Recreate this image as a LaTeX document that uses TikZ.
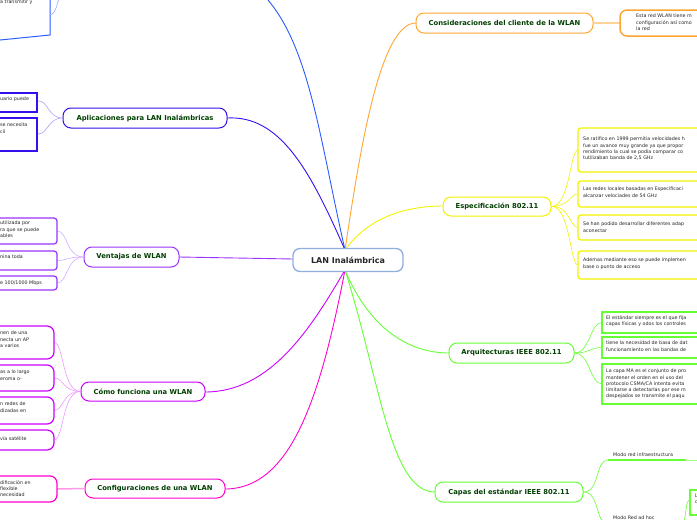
\documentclass[tikz,border=0pt]{standalone}
\usepackage{fontspec}
\setmainfont{DejaVu Sans}
\begin{document}
\begin{tikzpicture}[x=1pt,y=-1pt,
  br/.style={draw=#1, line width=1pt, rounded corners=8pt, fill=white, font=\fontsize{6.8}{8}\selectfont\bfseries, text=green!25!black, inner sep=0pt},
  tx/.style={font=\fontsize{4.8}{6.2}\selectfont, text=black!85, align=left, inner sep=0pt},
  con/.style={draw=#1, line width=0.9pt},
  sub/.style={draw=#1, line width=0.6pt}]
\useasboundingbox (0,0) rectangle (697,520);
\clip (0,0) rectangle (697,520);
\definecolor{corange}{HTML}{FFA630}
\definecolor{cyellow}{HTML}{F2F200}
\definecolor{cgreen}{HTML}{66FF33}
\definecolor{cblue}{HTML}{2A5CFF}
\definecolor{cind}{HTML}{3311EE}
\definecolor{cpur}{HTML}{9933FF}
\definecolor{cmag}{HTML}{CC00FF}
\definecolor{cpink}{HTML}{FF00CC}
\coordinate (ct) at (345,250);
\coordinate (cb) at (345,270);
% connectors from center
\draw[con=cblue] (ct) .. controls (320,140) and (310,50) .. (268,0) coordinate (topend);
\draw[con=corange] (ct) .. controls (360,150) and (380,23) .. (416,23);
\draw[con=cyellow] (ct) .. controls (370,215) and (410,206) .. (443,206);
\draw[con=cind] (ct) .. controls (310,170) and (280,115) .. (227,118);
\draw[con=cpur] (179,257) -- (293,259);
\draw[con=cgreen] (cb) .. controls (370,330) and (410,353) .. (449,353);
\draw[con=cgreen] (cb) .. controls (380,380) and (390,492) .. (435,492);
\draw[con=cmag] (cb) .. controls (310,330) and (270,392) .. (205,392);
\draw[con=cpink] (cb) .. controls (320,400) and (290,489) .. (225,489);
% central
\node[draw=cyan!50!blue!45, line width=1.3pt, rounded corners=7pt, fill=white, minimum width=110pt, minimum height=23pt, font=\fontsize{8}{9}\selectfont\bfseries, text=black!85] (center) at (348,260) {LAN Inalámbrica};
% right branches
\node[br=corange, minimum width=177pt, minimum height=20pt] (cons) at (504.5,23) {Consideraciones del cliente de la WLAN};
\node[br=cyellow, minimum width=108pt, minimum height=19pt] (esp) at (497,206.5) {Especificación 802.11};
\node[br=cgreen, minimum width=125pt, minimum height=20pt] (arq) at (511.5,353) {Arquitecturas IEEE 802.11};
\node[br=cgreen, minimum width=148pt, minimum height=20pt] (cap) at (509,492) {Capas del estándar IEEE 802.11};
% left branches
\node[br=cind, minimum width=164pt, minimum height=20pt] (apl) at (145,118) {Aplicaciones para LAN Inalámbricas};
\node[br=cpur, minimum width=95pt, minimum height=20pt] (ven) at (131.5,257) {Ventajas de WLAN};
\node[br=cmag, minimum width=124pt, minimum height=19pt] (como) at (143,391.5) {Cómo funciona una WLAN};
\node[br=cpink, minimum width=140pt, minimum height=19pt] (conf) at (155,488.5) {Configuraciones de una WLAN};
% orange child
\draw[sub=corange!50, line width=1.5pt] (cons.east) -- (620,23);
\draw[line width=1.5pt, draw=corange, rounded corners=7pt, fill=white] (620,10) rectangle (720,36);
\node[tx, anchor=north west] (o1) at (636,14) {Esta red WLAN tiene m\\configuración así como\\la red};
% yellow children
\foreach \t/\b/\n in {128/172/y1,181/207/y2,215/240/y3,251/279/y4}{
  \draw[sub=cyellow] (esp.east) .. controls (570,206) and (570,{(\t+\b)/2}) .. (578,{(\t+\b)/2});
  \draw[line width=1.3pt, draw=cyellow, rounded corners=3pt, fill=white] (578,\t) rectangle (720,\b);
}
\node[tx, anchor=north west] (y1) at (583,137) {Se ratifico en 1999 permitia velocidades h\\fue un avance muy grande ya que propor\\rendimiento la cual se podia comparar co\\tutilizaban banda de 2,5 GHz};
\node[tx, anchor=north west] (y2) at (583,187) {Las redes locales basadas en Especificaci\\alcanzar velociades de 54 GHz};
\node[tx, anchor=north west] (y3) at (583,222) {Se han podido desarrollar diferentes adap\\aconectar};
\node[tx, anchor=north west] (y4) at (583,258) {Ademas mediante eso se puede implemen\\base o punto de acceso};
% green arq children
\foreach \t/\b in {312/333,337/358,364/404}{
  \draw[sub=cgreen] (arq.east) .. controls (590,353) and (590,{(\t+\b)/2}) .. (602,{(\t+\b)/2});
  \draw[line width=1.4pt, draw=cgreen, fill=white] (602,\t) rectangle (720,\b);
}
\node[tx, anchor=north west] (g1) at (606,315) {El estándar siempre es el que fija\\capas físicas y odos los controles};
\node[tx, anchor=north west] (g2) at (606,341) {tiene la necesidad de basa de dat\\funcionamiento en las bandas de};
\node[tx, anchor=north west] (g3) at (606,369) {La capa MA es el conjunto de pro\\mantener el orden en el uso del\\protocolo CSMA/CA intenta evita\\limitarse a detectarlas por ese m\\despejados se transmite el paqu};
% capas children
\node[tx, anchor=south west] (m1) at (613,457) {Modo red infraestructura};
\node[tx, anchor=south west] (m2) at (613,519.5) {Modo Red ad hoc};
\draw[sub=cgreen] (cap.east) .. controls (600,492) and (595,460) .. (608,460);
\draw[line width=1.3pt, draw=cgreen] (608,460) -- (686,460);
\draw[sub=cgreen!60] (686,460) -- (720,460);
\draw[sub=cgreen] (cap.east) .. controls (600,492) and (595,524) .. (608,524);
\draw[sub=cgreen] (680,524) .. controls (688,524) and (684,500) .. (690,500);
\draw[line width=1.3pt, draw=cgreen, fill=white] (690,490) rectangle (720,515);
\node[tx, anchor=north west] (m3) at (695,494) {L\\c};
% top-left blue box
\draw[line width=1pt, draw=cblue, fill=white] (-20,-10) -- (50,-10) -- (50,35) -- (0,40);
\node[tx, anchor=north west] (b0) at (0,0) {a transmitir y};
\draw[sub=cblue!50] (50,15) .. controls (58,12) and (56,2) .. (60,-2);
% apl children
\draw[sub=cind!40] (apl.west) .. controls (48,118) and (48,100) .. (38,101);
\draw[sub=cind!40] (apl.west) .. controls (48,118) and (48,134) .. (38,134);
\draw[line width=1.2pt, draw=cind, fill=white] (-10,93) rectangle (37,112);
\draw[line width=1.2pt, draw=cind, fill=white] (-10,118) rectangle (37,151);
\node[tx, anchor=north west] (a1) at (0,97) {uario puede};
\node[tx, anchor=north west] (a2) at (0,123) {se necesita\\cil};
% ventajas children
\foreach \t/\b in {218/244,251/270,276/290}{
  \draw[sub=cpur!40] (ven.west) .. controls (66,257) and (68,{(\t+\b)/2}) .. (57,{(\t+\b)/2});
  \draw[line width=1.2pt, draw=cpur, rounded corners=3pt, fill=white] (-10,\t) rectangle (57,\b);
}
\node[tx, anchor=north west] (v1) at (0,221) {utilizada por\\ra que se puede\\ables};
\node[tx, anchor=north west] (v2) at (0,255) {nina toda};
\node[tx, anchor=north west] (v3) at (0,281) {e 100/1000 Mbps};
% como children
\foreach \t/\b in {326/359,365/391,397/424,430/450}{
  \draw[sub=cmag!40] (como.west) .. controls (62,391) and (64,{(\t+\b)/2}) .. (54,{(\t+\b)/2});
  \draw[line width=1.2pt, draw=cmag, rounded corners=7pt, fill=white] (-10,\t) rectangle (54,\b);
}
\node[tx, anchor=north west] (w1) at (0,331) {nen de una\\necta un AP\\ a varios};
\node[tx, anchor=north west] (w2) at (0,370) {as a lo largo\\eroma o-};
\node[tx, anchor=north west] (w3) at (0,402) {n redes de\\dizadas en};
\node[tx, anchor=north west] (w4) at (0,436) { vía satélite};
% conf child
\draw[sub=cpink!40, line width=1.5pt] (conf.west) -- (57,489);
\draw[line width=1.2pt, draw=cpink, rounded corners=7pt, fill=white] (-10,476) rectangle (57,502);
\node[tx, anchor=north west] (f1) at (0,480) {dificación en\\flexible\\necesidad};
\end{tikzpicture}
\end{document}
